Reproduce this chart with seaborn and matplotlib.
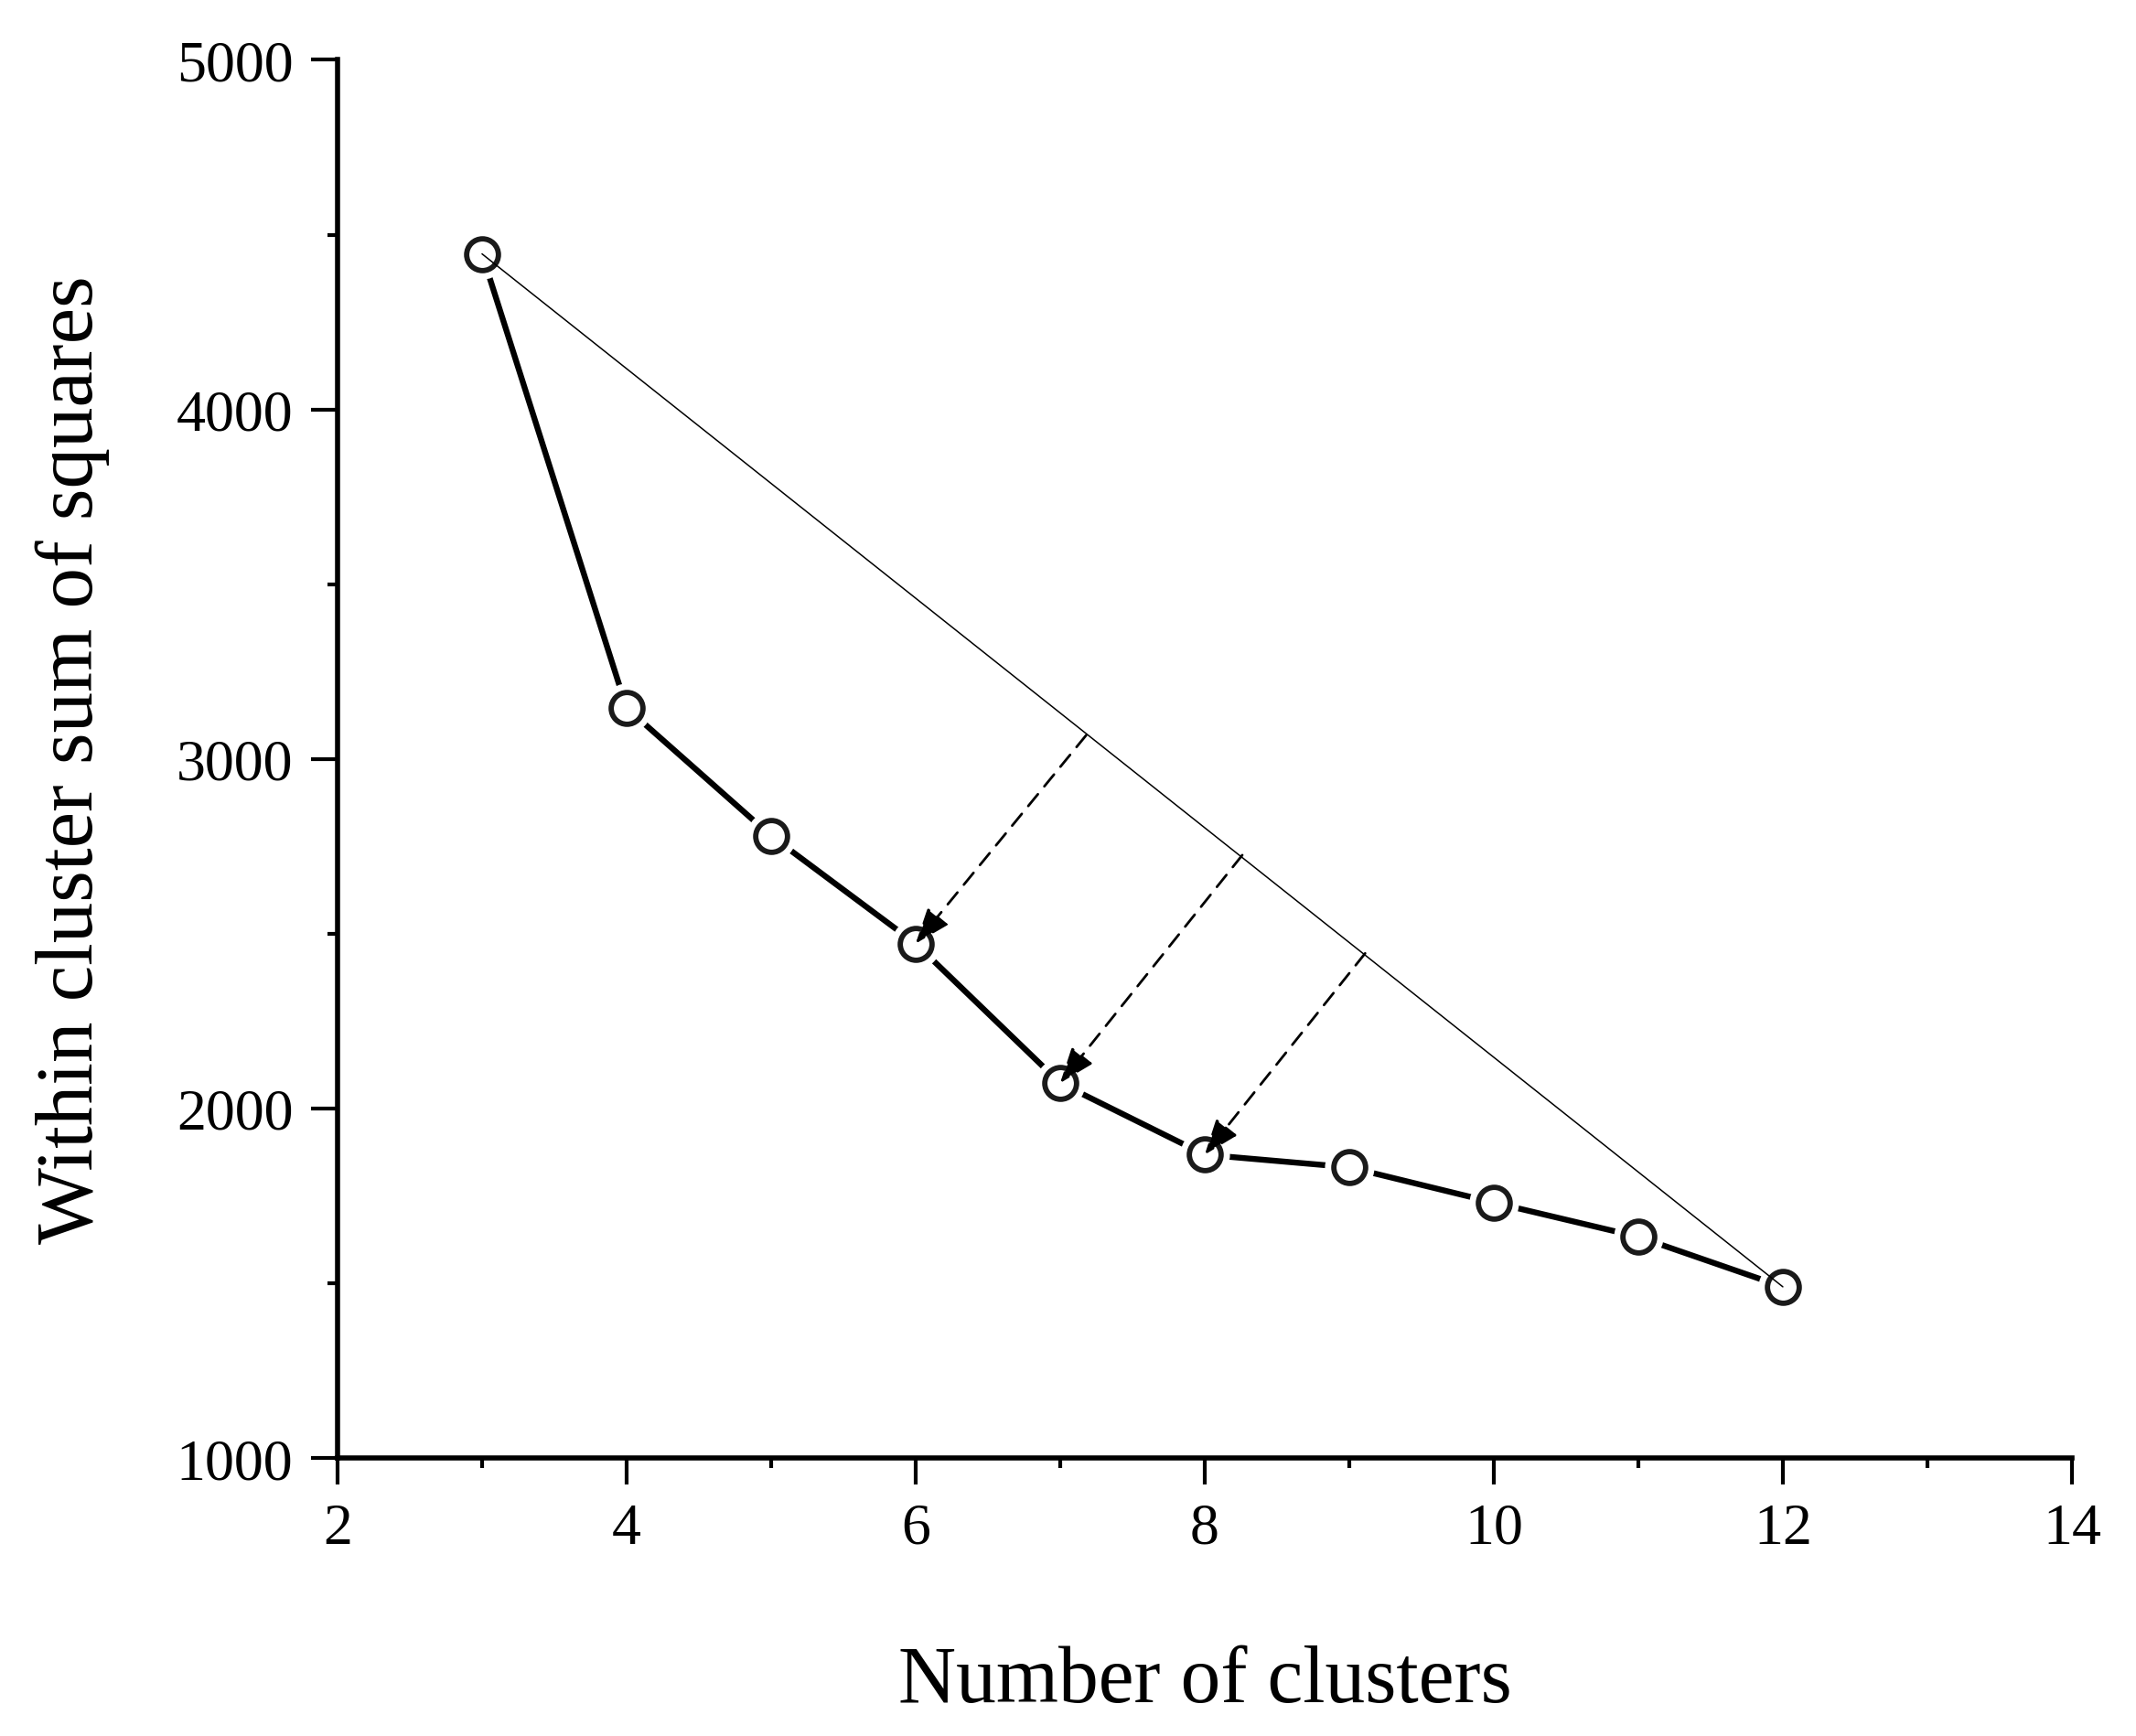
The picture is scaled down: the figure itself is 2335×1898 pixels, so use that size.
import numpy as np
import pandas as pd
import seaborn as sns
import matplotlib.pyplot as plt
from matplotlib.ticker import MultipleLocator

# ---- data ----
clusters = [3, 4, 5, 6, 7, 8, 9, 10, 11, 12]
wcss = [4445, 3146, 2780, 2472, 2073, 1868, 1832, 1731, 1633, 1490]
chord_x = [3, 12]
chord_y = [4445, 1490]
arrow_start_x = [7.18, 8.26, 9.11]
arrow_start_y = [3068, 2725, 2444]
arrow_end_k = [6, 7, 8]
x_ticks = [2, 4, 6, 8, 10, 12, 14]
y_ticks = [1000, 2000, 3000, 4000, 5000]
x_label = "Number of clusters"
y_label = "Within cluster sum of squares"

sns.set_theme(style="ticks")
plt.rcParams['font.family'] = ['Liberation Serif', 'DejaVu Serif']
plt.rcParams['mathtext.fontset'] = 'dejavuserif'

fig = plt.figure(figsize=(23.35, 18.99), dpi=100)
ax = fig.add_axes([0.158, 0.160, 0.812, 0.805])

df = pd.DataFrame({"k": clusters, "w": wcss})
sns.lineplot(data=df, x="k", y="w", ax=ax, color="black", linewidth=4.6,
             zorder=2, sort=False)
# white halo to create gaps between line and markers
ax.plot(df["k"], df["w"], linestyle="none", marker="o", markersize=38,
        markerfacecolor="white", markeredgecolor="white", zorder=3)
ax.plot(df["k"], df["w"], linestyle="none", marker="o", markersize=25,
        markerfacecolor="white", markeredgecolor="#1a1a1a",
        markeredgewidth=4.2, zorder=4)

# chord from first to last point
sns.lineplot(x=chord_x, y=chord_y, ax=ax, color="black", linewidth=1.1, zorder=5)

# dashed arrows
for sx, sy, k in zip(arrow_start_x, arrow_start_y, arrow_end_k):
    ey = wcss[clusters.index(k)]
    ax.annotate("", xy=(k, ey), xytext=(sx, sy),
                arrowprops=dict(arrowstyle="-|>,head_length=0.8,head_width=0.3",
                                mutation_scale=30, color="black", linewidth=2.0,
                                linestyle=(0, (6, 4)), shrinkA=0, shrinkB=0),
                zorder=6)

ax.set_xlim(2, 14)
ax.set_ylim(1000, 5000)
ax.set_xticks(x_ticks)
ax.set_yticks(y_ticks)
ax.xaxis.set_minor_locator(MultipleLocator(1))
ax.yaxis.set_minor_locator(MultipleLocator(500))

for side in ["top", "right"]:
    ax.spines[side].set_visible(False)
for side in ["left", "bottom"]:
    ax.spines[side].set_linewidth(4)
    ax.spines[side].set_color("black")

ax.tick_params(axis="both", which="major", direction="out", length=21, width=3,
               color="black", labelsize=46, labelcolor="black", pad=14)
ax.tick_params(axis="both", which="minor", direction="out", length=8, width=3,
               color="black")

ax.set_xlabel(x_label, fontsize=63, color="black", labelpad=70)
ax.set_ylabel(y_label, fontsize=64, color="black", labelpad=52)

fig.savefig("out.png", dpi=100, facecolor="white")
